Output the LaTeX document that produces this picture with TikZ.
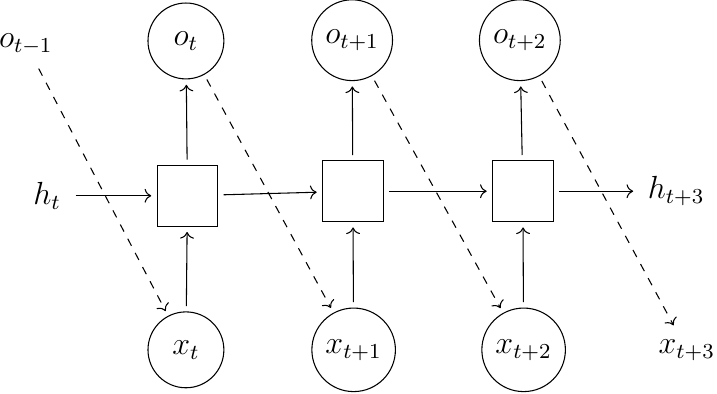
\documentclass[tikz,border=0pt]{standalone}
\usepackage{amsmath}
\usepackage{tikz}
\usetikzlibrary{arrows.meta, positioning}

\begin{document}
\begin{tikzpicture}[
    neuron/.style={circle, draw, minimum size=1cm, font=\large},
    cell/.style={rectangle, draw, minimum size=0.8cm},
    lbl/.style={font=\large},
    arr/.style={->, shorten >=2pt, shorten <=2pt},
    recur/.style={->, dashed, shorten >=2pt, shorten <=2pt}
]
\useasboundingbox (0,0) rectangle (9.448,-5.192);

% outputs
\node[lbl] (o0) at (0.34,-0.58) {$o_{t-1}$};
\node[neuron] (o1) at (2.45,-0.54) {$o_t$};
\node[neuron] (o2) at (4.64,-0.53) {$o_{t+1}$};
\node[neuron] (o3) at (6.85,-0.53) {$o_{t+2}$};

% hidden cells
\node[cell] (c1) at (2.47,-2.58) {};
\node[cell] (c2) at (4.65,-2.52) {};
\node[cell] (c3) at (6.89,-2.52) {};
\node[lbl] (h0) at (0.62,-2.58) {$h_t$};
\node[lbl] (h3) at (8.91,-2.52) {$h_{t+3}$};

% inputs
\node[neuron] (x1) at (2.45,-4.61) {$x_t$};
\node[neuron] (x2) at (4.66,-4.61) {$x_{t+1}$};
\node[neuron] (x3) at (6.90,-4.61) {$x_{t+2}$};
\node[lbl] (x4) at (9.05,-4.61) {$x_{t+3}$};

\draw[arr] (h0) -- (c1);
\draw[arr] (c1) -- (c2);
\draw[arr] (c2) -- (c3);
\draw[arr] (c3) -- (h3);

\draw[arr] (x1) -- (c1);
\draw[arr] (x2) -- (c2);
\draw[arr] (x3) -- (c3);
\draw[arr] (c1) -- (o1);
\draw[arr] (c2) -- (o2);
\draw[arr] (c3) -- (o3);

\draw[recur] (o0) -- (x1);
\draw[recur] (o1) -- (x2);
\draw[recur] (o2) -- (x3);
\draw[recur] (o3) -- (x4);
\end{tikzpicture}
\end{document}
